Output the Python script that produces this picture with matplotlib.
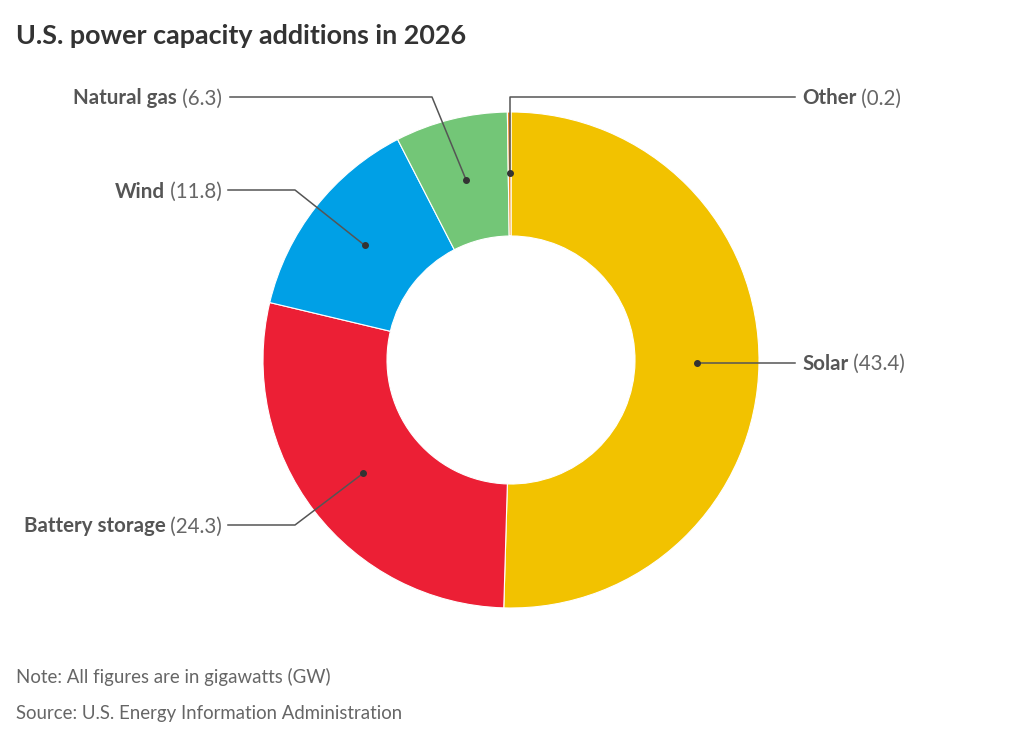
import numpy as np
import matplotlib.pyplot as plt

plt.rcParams['font.family'] = ['Lato', 'DejaVu Sans']

sources = ["Solar", "Battery storage", "Wind", "Natural gas", "Other"]
capacity = [43.4, 24.3, 11.8, 6.3, 0.2]
colors = ["#F2C200", "#EC1F35", "#00A0E6", "#73C677", "#F08A24"]

W, H = 1024, 739
fig = plt.figure(figsize=(W / 100, H / 100), dpi=100)
ax = fig.add_axes([0, 0, 1, 1])

cx, cy, R = 511, H - 360, 248
wedges, _ = ax.pie(capacity, colors=colors, startangle=90, counterclock=False,
                   radius=R, center=(cx, cy), frame=True,
                   wedgeprops=dict(width=R * 0.5, edgecolor="white", linewidth=0.8))
ax.set_xlim(0, W)
ax.set_ylim(0, H)
ax.set_aspect("equal")
ax.axis("off")

# label layout: (elbow x, elbow y, end x, text x, ha) in pixel coords (y from top)
layout = {
    "Solar": (None, None, 795, 802, "left"),
    "Battery storage": (295, 525, 228, 222, "right"),
    "Wind": (295, 190, 228, 222, "right"),
    "Natural gas": (432, 97, 230, 222, "right"),
    "Other": (510, 97, 795, 802, "left"),
}
fs = 14.8
rmid = R * 0.75
for w, name, val in zip(wedges, sources, capacity):
    ang = np.deg2rad((w.theta1 + w.theta2) / 2)
    dx, dy = cx + rmid * np.cos(ang), cy + rmid * np.sin(ang)
    if name == "Other":
        dx, dy = cx - 1, H - 173
    ex, ey, endx, tx, ha = layout[name]
    if ex is None:
        xs, ys = [dx, endx], [dy, dy]
    else:
        xs, ys = [dx, ex, endx], [dy, H - ey, H - ey]
    ax.plot(xs, ys, color="#555555", lw=1.1)
    ax.plot(dx, dy, "o", color="#333333", ms=4)
    ty = ys[-1] - 1.5
    if ha == "left":
        t = ax.text(tx, ty, name, ha="left", va="center", fontsize=fs,
                    fontweight="bold", color="#555555")
        ax.annotate(f" ({val})", xycoords=t, xy=(1, 0.5), va="center",
                    fontsize=fs, color="#666666")
    else:
        t = ax.text(tx, ty, f" ({val})", ha="right", va="center", fontsize=fs,
                    color="#666666")
        ax.annotate(name, xycoords=t, xy=(0, 0.5), ha="right", va="center",
                    fontsize=fs, fontweight="bold", color="#555555")

fig.text(16 / W, 1 - 36 / H, "U.S. power capacity additions in 2026", fontsize=19.4,
         fontweight="bold", color="#333333", va="center")
fig.text(16 / W, 1 - 677 / H, "Note: All figures are in gigawatts (GW)", fontsize=13.4,
         color="#666666", va="center")
fig.text(16 / W, 1 - 713 / H, "Source: U.S. Energy Information Administration", fontsize=13.4,
         color="#666666", va="center")

fig.savefig("out.png", dpi=100)
